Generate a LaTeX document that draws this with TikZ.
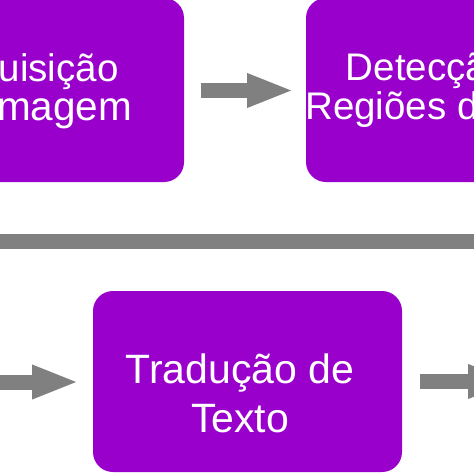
\documentclass[tikz,border=0pt]{standalone}
\usepackage{fontspec}
\setmainfont{Liberation Sans}
\usetikzlibrary{arrows.meta}
\definecolor{boxpurple}{HTML}{9900CC}
\definecolor{arrowgray}{HTML}{808080}
\begin{document}
\begin{tikzpicture}[x=1pt,y=-1pt,
  stagebox/.style={fill=boxpurple, rounded corners=20pt, inner sep=0pt, minimum width=304pt, minimum height=184pt},
  toptext/.style={text=white, anchor=base, inner sep=0pt, font=\fontsize{38.5pt}{40pt}\selectfont},
  bottext/.style={text=white, anchor=base, inner sep=0pt, font=\fontsize{41pt}{49pt}\selectfont},
  blockarrow/.style={draw=arrowgray, line width=15pt, -{Triangle[length=47pt,width=31pt]}}]
\useasboundingbox (0,0) rectangle (474,474);
\clip (0,0) rectangle (474,474);
% boxes
\node[stagebox] (acq) at (32,90) {};
\node[stagebox] (det) at (458,90) {};
\node[stagebox, minimum width=309pt, minimum height=181pt] (trad) at (247.5,381.5) {};
% texts
\node[toptext] (acq1) at (35,81.5) {Aquisição};
\node[toptext, font=\fontsize{40.5pt}{42pt}\selectfont] (acq2) at (31,120) {de Imagem};
\node[toptext] (det1) at (454,80) {Detecção de};
\node[toptext] (det2) at (454,119.5) {Regiões de Texto};
\node[bottext] (trad1) at (240,383) {Tradução de};
\node[bottext] (trad2) at (240,432) {Texto};
% separator bar
\coordinate (barl) at (-10,241.5);
\coordinate (barr) at (484,241.5);
\draw[arrowgray, line width=15pt] (barl) -- (barr);
% arrows
\coordinate (a1s) at (201,90.5);
\coordinate (a1e) at (294,90.5);
\draw[blockarrow] (a1s) -- (a1e);
\coordinate (a2s) at (-20,382);
\coordinate (a2e) at (79,382);
\draw[blockarrow] (a2s) -- (a2e);
\coordinate (a3s) at (420,381.5);
\coordinate (a3e) at (515,381.5);
\draw[blockarrow] (a3s) -- (a3e);
\end{tikzpicture}
\end{document}
